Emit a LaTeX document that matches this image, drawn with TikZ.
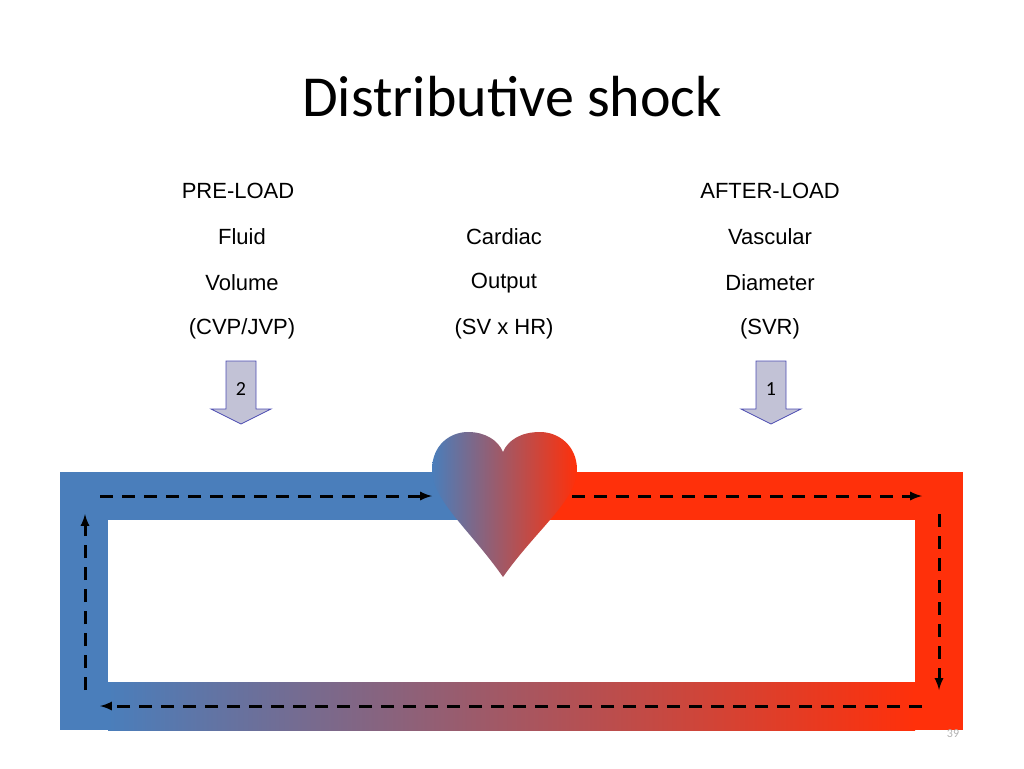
\documentclass[tikz,border=0pt]{standalone}
\usepackage{fontspec}
\setmainfont{Liberation Sans}
\newfontfamily\calfont{Carlito}
\begin{document}
\begin{tikzpicture}[x=1pt,y=-1pt,
  lbl/.style={font=\fontsize{22}{26}\selectfont,inner sep=0pt},
  flow/.style={line width=3pt,dash pattern=on 13pt off 9pt,-latex},
  barrow/.style={fill=blue!20!gray!40,draw=blue!40!gray,line width=0.8pt}]
\definecolor{bl}{RGB}{74,126,187}
\definecolor{rd}{RGB}{255,48,10}
\useasboundingbox (0,0) rectangle (1024,768);
\node[font=\calfont\fontsize{58}{62}\selectfont] (title) at (512,97) {Distributive shock};
\node[lbl] (pl) at (238,191) {PRE-LOAD};
\node[lbl] (fl) at (242,237) {Fluid};
\node[lbl] (vo) at (242,283) {Volume};
\node[lbl] (cv) at (242,329) {(CVP/JVP)};
\node[lbl] (ca) at (504,237) {Cardiac};
\node[lbl] (ou) at (504,283) {Output};
\node[lbl] (sh) at (504,329) {(SV x HR)};
\node[lbl] (al) at (770,191) {AFTER-LOAD};
\node[lbl] (va) at (770,237) {Vascular};
\node[lbl] (di) at (770,283) {Diameter};
\node[lbl] (sv) at (770,329) {(SVR)};
% frame
\fill[bl] (60,472) rectangle (503,520);
\fill[rd] (503,472) rectangle (963,520);
\fill[bl] (60,472) rectangle (108,730);
\fill[rd] (915,472) rectangle (963,730);
\shade[left color=bl,right color=rd] (108,682) rectangle (915,730);
\fill[bl] (60,682) rectangle (108,730);
\fill[rd] (915,682) rectangle (963,730);
% heart
\shade[left color=bl,right color=rd] (503,577) .. controls (470,530) and (432,500) .. (432,470) .. controls (432,445) and (450,432) .. (468,432) .. controls (485,432) and (498,440) .. (503,452) .. controls (508,440) and (521,432) .. (540,432) .. controls (558,432) and (577,445) .. (577,470) .. controls (577,500) and (536,530) .. (503,577) -- cycle;
\node[inner sep=0pt] (heart) at (503,500) {};
% flows
\coordinate (t1) at (100,496); \coordinate (t2) at (432,496);
\coordinate (t3) at (572,496); \coordinate (t4) at (922,496);
\coordinate (r1) at (939,514); \coordinate (r2) at (939,690);
\coordinate (b1) at (922,706); \coordinate (b2) at (100,706);
\coordinate (l1) at (85,690); \coordinate (l2) at (85,514);
\draw[flow] (t1) -- (t2);
\draw[flow] (t3) -- (t4);
\draw[flow] (r1) -- (r2);
\draw[flow] (b1) -- (b2);
\draw[flow] (l1) -- (l2);
% block arrows
\draw[barrow] (226,361) -- (256,361) -- (256,409) -- (271,409) -- (241,424) -- (211,409) -- (226,409) -- cycle;
\node[font=\calfont\fontsize{20}{22}\selectfont] (n2) at (241,389) {2};
\draw[barrow] (756,361) -- (786,361) -- (786,409) -- (801,409) -- (771,424) -- (741,409) -- (756,409) -- cycle;
\node[font=\calfont\fontsize{20}{22}\selectfont] (n1) at (771,389) {1};
\node[font=\calfont\fontsize{12}{14}\selectfont,text=gray!60] (pg) at (953,734) {39};
\end{tikzpicture}
\end{document}
